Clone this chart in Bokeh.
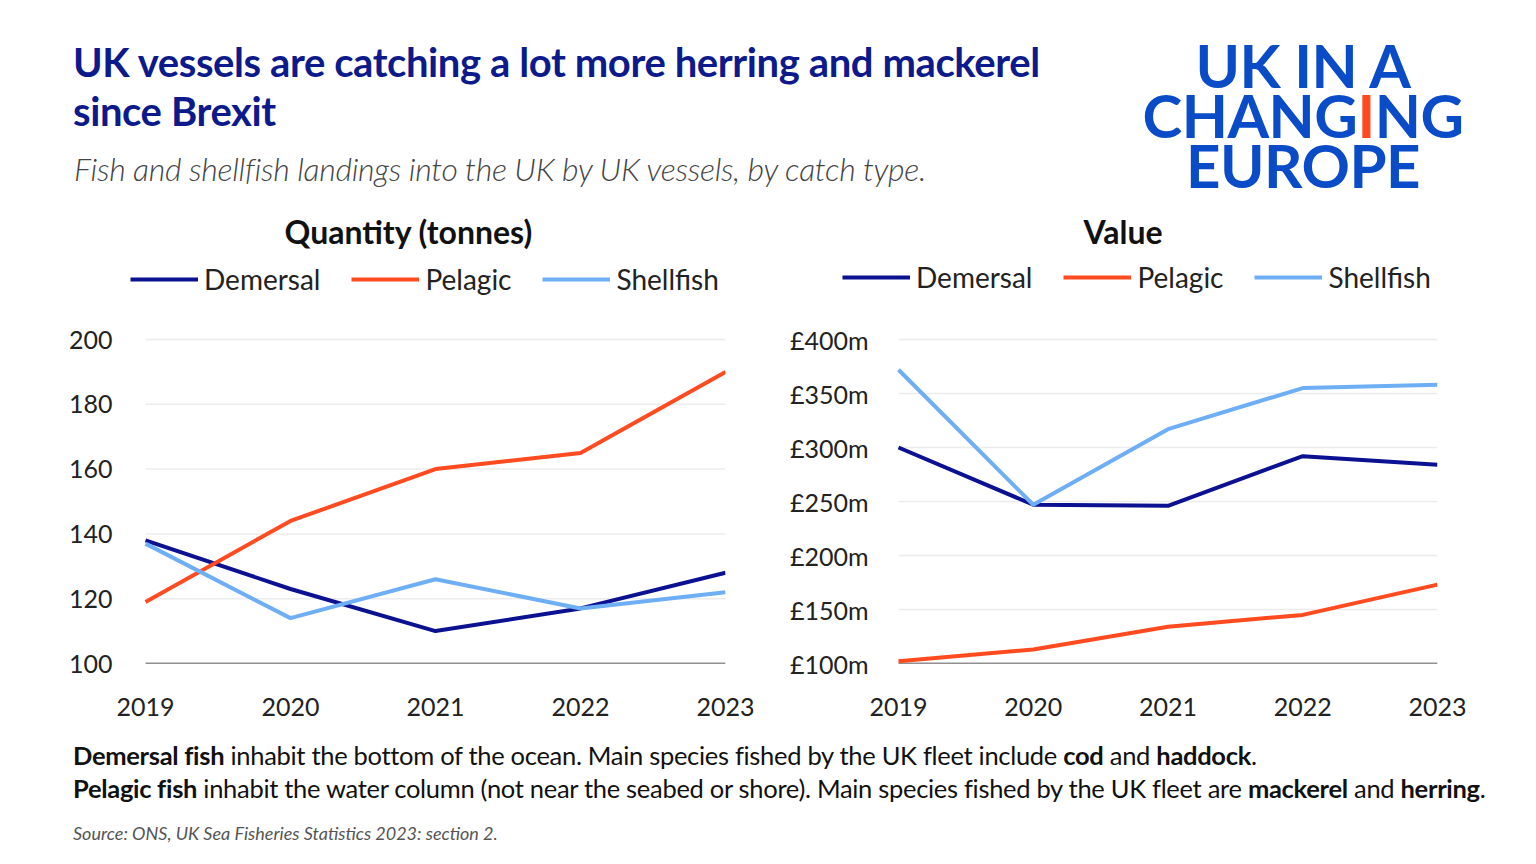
from bokeh.plotting import figure
from bokeh.layouts import column, row
from bokeh.models import Div, Legend, LegendItem, Range1d, Title, FixedTicker
from bokeh.embed import file_html
from bokeh.resources import INLINE

years = [2019, 2020, 2021, 2022, 2023]
series_names = ["Demersal", "Pelagic", "Shellfish"]
qty_demersal = [138, 123, 110, 117, 128]
qty_pelagic = [119, 144, 160, 165, 190]
qty_shellfish = [137, 114, 126, 117, 122]
val_demersal = [300, 247, 246, 292, 284]
val_pelagic = [102, 113, 134, 145, 173]
val_shellfish = [372, 247, 317, 355, 358]
qty_ticks = [100, 120, 140, 160, 180, 200]
val_ticks = [100, 150, 200, 250, 300, 350, 400]
val_tick_labels = ["£100m", "£150m", "£200m", "£250m", "£300m", "£350m", "£400m"]

COLORS = ["#0b1190", "#ff4b1f", "#6eaef5"]
FONT = "Lato"
NAVY = "#0d1a8c"

FIG_W = 768
FIG_H = 535
BORDER_TOP = 60
BORDER_BOTTOM = 72
DATA_H = 324  # pixel height between lowest and highest tick


def make_fig(title, ticks, labels, series, frame_left, first_x, last_x, frame_right,
             label_standoff, title_off, leg_loc):
    frame_h = FIG_H - BORDER_TOP - BORDER_BOTTOM
    y_end = ticks[0] + (ticks[-1] - ticks[0]) * frame_h / DATA_H
    px_per_year = (last_x - first_x) / (years[-1] - years[0])
    x_start = years[0] - (first_x - frame_left) / px_per_year
    x_end = years[-1] + (frame_right - last_x) / px_per_year
    p = figure(width=FIG_W, height=FIG_H, x_range=Range1d(x_start, x_end),
               y_range=Range1d(ticks[0], y_end), output_backend="svg",
               toolbar_location=None, min_border_left=frame_left,
               min_border_right=FIG_W - frame_right,
               min_border_bottom=BORDER_BOTTOM, min_border_top=BORDER_TOP)
    p.title = Title(text=title, align="left", offset=title_off, text_font_size="32px",
                    text_font=FONT, text_font_style="bold", text_color="#111111", standoff=19)
    p.outline_line_color = None
    p.background_fill_color = "white"
    p.border_fill_color = "white"
    p.xgrid.visible = False
    p.ygrid.visible = False
    p.xaxis.ticker = FixedTicker(ticks=years)
    p.yaxis.ticker = FixedTicker(ticks=ticks)
    if labels is not None:
        p.yaxis.major_label_overrides = {t: l for t, l in zip(ticks, labels)}
    for ax in (p.xaxis[0], p.yaxis[0]):
        ax.axis_line_color = None
        ax.major_tick_line_color = None
        ax.minor_tick_line_color = None
        ax.major_label_text_font = FONT
        ax.major_label_text_font_size = "25px"
        ax.major_label_text_color = "#222222"
    p.xaxis.major_label_standoff = 28
    p.yaxis.major_label_standoff = label_standoff
    # horizontal grid lines spanning the year range, baseline darker
    p.segment(x0=[years[0]] * (len(ticks) - 1), x1=[years[-1]] * (len(ticks) - 1),
              y0=ticks[1:], y1=ticks[1:], line_color="#ececec", line_width=1.5)
    p.segment(x0=[years[0]], x1=[years[-1]], y0=[ticks[0]], y1=[ticks[0]],
              line_color="#222222", line_width=1.5)
    items = []
    for name, ys, c in zip(series_names, series, COLORS):
        r = p.line(years, ys, line_color=c, line_width=4)
        items.append(LegendItem(label=name, renderers=[r]))
    leg = Legend(items=items, orientation="horizontal", location=leg_loc,
                 label_text_font=FONT, label_text_font_size="28px", label_text_color="#222222",
                 glyph_width=68, glyph_height=20, spacing=31, label_standoff=6,
                 padding=0, margin=0, border_line_color=None, background_fill_alpha=0)
    p.add_layout(leg)
    return p


p1 = make_fig("Quantity (tonnes)", qty_ticks, None, [qty_demersal, qty_pelagic, qty_shellfish],
              125, 145, 725, 725, 7, 159, (5, 367))
p2 = make_fig("Value", val_ticks, val_tick_labels, [val_demersal, val_pelagic, val_shellfish],
              835 - FIG_W, 898 - FIG_W, 1437 - FIG_W, 1437 - FIG_W, -39, 248, (7, 369))

header_html = f"""
<div style="position:relative;width:1536px;height:200px;font-family:{FONT};">
  <div style="position:absolute;left:73px;top:38px;font-size:40px;font-weight:700;color:{NAVY};line-height:49px;letter-spacing:-0.4px;white-space:nowrap;">UK vessels are catching a lot more herring and mackerel<br>since Brexit</div>
  <div style="position:absolute;left:74px;top:146px;font-size:32px;font-style:italic;font-weight:300;color:#444444;letter-spacing:-0.3px;white-space:nowrap;">Fish and shellfish landings into the UK by UK vessels, by catch type.</div>
  <div style="position:absolute;left:1103px;top:40px;width:400px;text-align:center;font-size:60px;font-weight:700;color:#0a4cc8;letter-spacing:-0.5px;">
    <div style="height:50px;line-height:50px;">UK IN A</div>
    <div style="height:50px;line-height:50px;">CHANG<span style="color:#ff4b1f">I</span>NG</div>
    <div style="height:50px;line-height:50px;">EUROPE</div>
  </div>
</div>
"""
header = Div(text=header_html, width=1536, height=200, margin=0)

footer_html = f"""
<div style="position:relative;width:1536px;height:129px;font-family:{FONT};color:#111111;">
  <div style="position:absolute;left:73px;top:4px;font-size:25.5px;line-height:33px;letter-spacing:-0.3px;white-space:nowrap;">
  <b>Demersal fish</b> inhabit the bottom of the ocean. Main species fished by the UK fleet include <b>cod</b> and <b>haddock</b>.<br>
  <b>Pelagic fish</b> inhabit the water column (not near the seabed or shore). Main species fished by the UK fleet are <b>mackerel</b> and <b>herring</b>.</div>
  <div style="position:absolute;left:73px;top:86px;font-size:18px;font-style:italic;color:#555555;white-space:nowrap;">Source: ONS, UK Sea Fisheries Statistics 2023: section 2.</div>
</div>
"""
footer = Div(text=footer_html, width=1536, height=129, margin=0)

layout = column(header, row(p1, p2, spacing=0), footer, spacing=0)
open("out.html", "w").write(file_html(layout, INLINE))
